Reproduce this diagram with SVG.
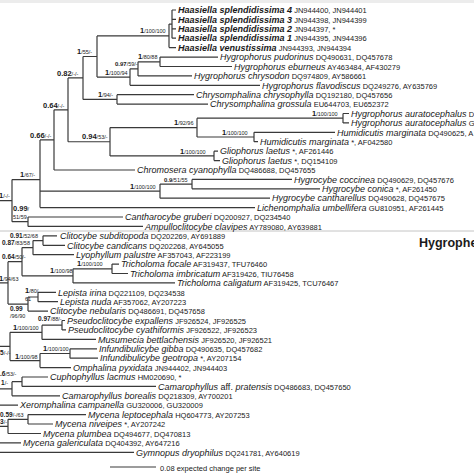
<svg xmlns="http://www.w3.org/2000/svg" width="474" height="474" viewBox="0 0 474 474">
<style>
.t{font-family:"Liberation Sans",Arial,sans-serif;fill:#1a1a1a}
.n{font-size:9px;font-style:italic}
.hb{font-weight:bold}
.a{font-size:7.5px;font-style:normal;font-weight:normal}
.r{font-style:normal}
.lb{font-size:7.5px;font-weight:bold}
.ls{font-size:5.5px}
.c{stroke:#3a3a3a;stroke-width:1.2;fill:none}
</style>
<rect x="0" y="0" width="474" height="474" fill="#fff"/>
<rect x="0" y="0" width="474" height="3" fill="#ececec"/>
<line x1="0" y1="231" x2="474" y2="231" stroke="#c4c4c4" stroke-width="1"/>
<g id="connectors">
<path class="c" d="M172 10V38.2M172 10H176M172 19.4H176M172 28.8H176M172 38.2H176M169 24.1V47.6M169 24.1H172M169 47.6H176M97 35.9V77.1M97 35.9H169M97 77.1H130M130 68.85V85.3M130 68.85H138M130 85.3H260M138 61.8V75.9M138 61.8H160M138 75.9H192M160 57.1V66.5M160 57.1H218M160 66.5H232M117 94.7V104.1M117 94.7H194M117 104.1H208M83 56.5V99.4M83 56.5H97M83 99.4H117M68 77.95V141.75M68 77.95H83M68 141.75H110M343 113.5V122.9M343 113.5H349M343 122.9H349M254 132.3V141.7M254 132.3H335M254 141.7H258M197 118.2V137M197 118.2H343M197 137H254M214 151.2V160.6M214 151.2H218M214 160.6H220M110 127.6V155.9M110 127.6H197M110 155.9H214M54 109.85V170M54 109.85H68M54 170H135M192 179.4V188.8M192 179.4H292M192 188.8H320M160 184.1V198.2M160 184.1H192M160 198.2H270M40 139.9V207.6M40 139.9H54M40 191.15H160M40 207.6H255M28 217V226.4M28 217H123M28 226.4H143M12 179.55V221.7M12 179.55H40M12 221.7H28M0 200.6H12"/>
<path class="c" d="M43 235.8V245.3M43 235.8H57M43 245.3H65M33 240.55V254.7M33 240.55H43M33 254.7H74M112 264.1V273.5M112 264.1H119M112 273.5H128M73 268.8V282.9M73 268.8H112M73 282.9H175M22 247.6V275.85M22 247.6H33M22 275.85H73M38 292.3V301.7M38 292.3H56M38 301.7H58M28 297V311.1M28 297H38M28 311.1H48M8 261.7V304.05M8 261.7H22M8 304.05H28M0 282.9H8M62 320.5V329.9M62 320.5H65M62 329.9H66M42 325.2V339.4M42 325.2H62M42 339.4H96M70 348.8V358.2M70 348.8H97M70 358.2H98M40 353.5V367.6M40 353.5H70M40 367.6H71M10 332.3V360.55M10 332.3H42M10 360.55H40M0 346.4H10M22 377V386.4M22 377H48M22 386.4H156M12 381.7V395.8M12 381.7H22M12 395.8H60M0 388.8H12M0 405.2H18M28 414.6V424M28 414.6H86M28 424H53M8 419.3V433.5M8 419.3H28M8 433.5H41M0 426.4H8M0 442.9H21M0 452.3H134"/>
</g>
<g id="leaves" class="t">
<g id="leaf1"><text x="178" y="13.2"><tspan class="n hb">Haasiella splendidissima 4</tspan><tspan class="a"> JN944400, JN944401</tspan></text></g>
<g id="leaf2"><text x="178" y="22.6"><tspan class="n hb">Haasiella splendidissima 3</tspan><tspan class="a"> JN944398, JN944399</tspan></text></g>
<g id="leaf3"><text x="178" y="32"><tspan class="n hb">Haasiella splendidissima 2</tspan><tspan class="a"> JN944397, *</tspan></text></g>
<g id="leaf4"><text x="178" y="41.4"><tspan class="n hb">Haasiella splendidissima 1</tspan><tspan class="a"> JN944395, JN944396</tspan></text></g>
<g id="leaf5"><text x="178" y="50.8"><tspan class="n hb">Haasiella venustissima</tspan><tspan class="a"> JN944393, JN944394</tspan></text></g>
<g id="leaf6"><text x="220" y="60.3"><tspan class="n">Hygrophorus pudorinus</tspan><tspan class="a"> DQ490631, DQ457678</tspan></text></g>
<g id="leaf7"><text x="234" y="69.7"><tspan class="n">Hygrophorus eburneus</tspan><tspan class="a"> AY463484, AF430279</tspan></text></g>
<g id="leaf8"><text x="194" y="79.1"><tspan class="n">Hygrophorus chrysodon</tspan><tspan class="a"> DQ974809, AY586661</tspan></text></g>
<g id="leaf9"><text x="262" y="88.5"><tspan class="n">Hygrophorus flavodiscus</tspan><tspan class="a"> DQ249276, AY635769</tspan></text></g>
<g id="leaf10"><text x="196" y="97.9"><tspan class="n">Chrysomphalina chrysophylla</tspan><tspan class="a"> DQ192180, DQ457656</tspan></text></g>
<g id="leaf11"><text x="210" y="107.3"><tspan class="n">Chrysomphalina grossula</tspan><tspan class="a"> EU644703, EU652372</tspan></text></g>
<g id="leaf12"><text x="351" y="116.7"><tspan class="n">Hygrophorus auratocephalus</tspan><tspan class="a"> D</tspan></text></g>
<g id="leaf13"><text x="351" y="126.1"><tspan class="n">Hygrophorus auratocephalus</tspan><tspan class="a"> G</tspan></text></g>
<g id="leaf14"><text x="337" y="135.5"><tspan class="n">Humidicutis marginata</tspan><tspan class="a"> DQ490625, A</tspan></text></g>
<g id="leaf15"><text x="260" y="144.9"><tspan class="n">Humidicutis marginata</tspan><tspan class="a"> *, AF042580</tspan></text></g>
<g id="leaf16"><text x="220" y="154.4"><tspan class="n">Gliophorus laetus</tspan><tspan class="a"> *, AF261446</tspan></text></g>
<g id="leaf17"><text x="222" y="163.8"><tspan class="n">Gliophorus laetus</tspan><tspan class="a"> *, DQ154109</tspan></text></g>
<g id="leaf18"><text x="137" y="173.2"><tspan class="n">Chromosera cyanophylla</tspan><tspan class="a"> DQ486688, DQ457655</tspan></text></g>
<g id="leaf19"><text x="294" y="182.6"><tspan class="n">Hygrocybe coccinea</tspan><tspan class="a"> DQ490629, DQ457676</tspan></text></g>
<g id="leaf20"><text x="322" y="192"><tspan class="n">Hygrocybe conica</tspan><tspan class="a"> *, AF261450</tspan></text></g>
<g id="leaf21"><text x="272" y="201.4"><tspan class="n">Hygrocybe cantharellus</tspan><tspan class="a"> DQ490628, DQ457675</tspan></text></g>
<g id="leaf22"><text x="257" y="210.8"><tspan class="n">Lichenomphalia umbellifera</tspan><tspan class="a"> GU810951, AF261445</tspan></text></g>
<g id="leaf23"><text x="125" y="220.2"><tspan class="n">Cantharocybe gruberi</tspan><tspan class="a"> DQ200927, DQ234540</tspan></text></g>
<g id="leaf24"><text x="145" y="229.6"><tspan class="n">Ampulloclitocybe clavipes</tspan><tspan class="a"> AY789080, AY639881</tspan></text></g>
<g id="leaf25"><text x="60" y="239"><tspan class="n">Clitocybe subditopoda</tspan><tspan class="a"> DQ202269, AY691889</tspan></text></g>
<g id="leaf26"><text x="67" y="248.5"><tspan class="n">Clitocybe candicans</tspan><tspan class="a"> DQ202268, AY645055</tspan></text></g>
<g id="leaf27"><text x="76" y="257.9"><tspan class="n">Lyophyllum palustre</tspan><tspan class="a"> AF357043, AF223199</tspan></text></g>
<g id="leaf28"><text x="121" y="267.3"><tspan class="n">Tricholoma focale</tspan><tspan class="a"> AF319437, TFU76460</tspan></text></g>
<g id="leaf29"><text x="130" y="276.7"><tspan class="n">Tricholoma imbricatum</tspan><tspan class="a"> AF319426, TIU76458</tspan></text></g>
<g id="leaf30"><text x="177" y="286.1"><tspan class="n">Tricholoma caligatum</tspan><tspan class="a"> AF319425, TCU76467</tspan></text></g>
<g id="leaf31"><text x="58" y="295.5"><tspan class="n">Lepista irina</tspan><tspan class="a"> DQ221109, DQ234538</tspan></text></g>
<g id="leaf32"><text x="60" y="304.9"><tspan class="n">Lepista nuda</tspan><tspan class="a"> AF357062, AY207223</tspan></text></g>
<g id="leaf33"><text x="50" y="314.3"><tspan class="n">Clitocybe nebularis</tspan><tspan class="a"> DQ486691, DQ457658</tspan></text></g>
<g id="leaf34"><text x="67" y="323.7"><tspan class="n">Pseudoclitocybe expallens</tspan><tspan class="a"> JF926524, JF926525</tspan></text></g>
<g id="leaf35"><text x="68" y="333.1"><tspan class="n">Pseudoclitocybe cyathiformis</tspan><tspan class="a"> JF926522, JF926523</tspan></text></g>
<g id="leaf36"><text x="98" y="342.6"><tspan class="n">Musumecia bettlachensis</tspan><tspan class="a"> JF926520, JF926521</tspan></text></g>
<g id="leaf37"><text x="99" y="352"><tspan class="n">Infundibulicybe gibba</tspan><tspan class="a"> DQ490635, DQ457682</tspan></text></g>
<g id="leaf38"><text x="100" y="361.4"><tspan class="n">Infundibulicybe geotropa</tspan><tspan class="a"> *, AY207154</tspan></text></g>
<g id="leaf39"><text x="73" y="370.8"><tspan class="n">Omphalina pyxidata</tspan><tspan class="a"> JN944402, JN944403</tspan></text></g>
<g id="leaf40"><text x="50" y="380.2"><tspan class="n">Cuphophyllus lacmus</tspan><tspan class="a"> HM020690, *</tspan></text></g>
<g id="leaf41"><text x="158" y="389.6"><tspan class="n">Camarophyllus <tspan class="r">aff.</tspan> pratensis</tspan><tspan class="a"> DQ486683, DQ457650</tspan></text></g>
<g id="leaf42"><text x="62" y="399"><tspan class="n">Camarophyllus borealis</tspan><tspan class="a"> DQ218309, AY700201</tspan></text></g>
<g id="leaf43"><text x="20" y="408.4"><tspan class="n">Xeromphalina campanella</tspan><tspan class="a"> GU320006, GU320009</tspan></text></g>
<g id="leaf44"><text x="88" y="417.8"><tspan class="n">Mycena leptocephala</tspan><tspan class="a"> HQ604773, AY207253</tspan></text></g>
<g id="leaf45"><text x="55" y="427.2"><tspan class="n">Mycena niveipes</tspan><tspan class="a"> *, AY207242</tspan></text></g>
<g id="leaf46"><text x="43" y="436.7"><tspan class="n">Mycena plumbea</tspan><tspan class="a"> DQ494677, DQ470813</tspan></text></g>
<g id="leaf47"><text x="23" y="446.1"><tspan class="n">Mycena galericulata</tspan><tspan class="a"> DQ404392, AY647216</tspan></text></g>
<g id="leaf48"><text x="136" y="455.5"><tspan class="n">Gymnopus dryophilus</tspan><tspan class="a"> DQ241781, AY640619</tspan></text></g>
</g>
<g id="support" class="t">
<text x="140" y="33"><tspan class="lb">1</tspan><tspan class="ls">/100/100</tspan></text>
<text x="77" y="53.5"><tspan class="lb">1</tspan><tspan class="ls">/55/-</tspan></text>
<text x="138" y="58.5"><tspan class="lb">1</tspan><tspan class="ls">/80/88</tspan></text>
<text x="115" y="65.5"><tspan class="lb" style="font-size:6px">0.97</tspan><tspan class="ls">/59/-</tspan></text>
<text x="105" y="74.5"><tspan class="lb">1</tspan><tspan class="ls">/100/94</tspan></text>
<text x="57" y="75.5"><tspan class="lb">0.82</tspan><tspan class="ls">/-/-</tspan></text>
<text x="98" y="96.5"><tspan class="lb">1</tspan><tspan class="ls">/94/-</tspan></text>
<text x="43" y="107.5"><tspan class="lb">0.64</tspan><tspan class="ls">/-/-</tspan></text>
<text x="312" y="115.5"><tspan class="lb">1</tspan><tspan class="ls">/100/100</tspan></text>
<text x="174" y="125"><tspan class="lb">1</tspan><tspan class="ls">/92/96</tspan></text>
<text x="222" y="134.5"><tspan class="lb">1</tspan><tspan class="ls">/100/100</tspan></text>
<text x="82" y="139"><tspan class="lb">0.94</tspan><tspan class="ls">/53/-</tspan></text>
<text x="30" y="137.5"><tspan class="lb">0.66</tspan><tspan class="ls">/-/-</tspan></text>
<text x="180" y="153.5"><tspan class="lb">1</tspan><tspan class="ls">/100/100</tspan></text>
<text x="20" y="177"><tspan class="lb">1</tspan><tspan class="ls">/67/-</tspan></text>
<text x="164" y="181.5"><tspan class="lb" style="font-size:6px">0.9</tspan><tspan class="ls">/51/55</tspan></text>
<text x="130" y="188.5"><tspan class="lb">1</tspan><tspan class="ls">/100/100</tspan></text>
<text x="-1" y="198"><tspan class="lb">1</tspan><tspan class="ls">/-/-</tspan></text>
<text x="13" y="211"><tspan class="lb">0.99</tspan><tspan class="ls">/</tspan></text>
<text x="13" y="219"><tspan class="ls">51/59</tspan></text>
<text x="10" y="238"><tspan class="lb" style="font-size:6.5px">0.91</tspan><tspan class="ls">/52/68</tspan></text>
<text x="2" y="245"><tspan class="lb" style="font-size:6.5px">0.87</tspan><tspan class="ls">/83/58</tspan></text>
<text x="2" y="259"><tspan class="lb" style="font-size:6.5px">0.64</tspan><tspan class="ls">/50/-</tspan></text>
<text x="77" y="266"><tspan class="lb">1</tspan><tspan class="ls">/100/100</tspan></text>
<text x="50" y="273"><tspan class="lb">1</tspan><tspan class="ls">/100/98</tspan></text>
<text x="-1" y="281"><tspan class="lb">1</tspan><tspan class="ls">/94/63</tspan></text>
<text x="25" y="293"><tspan class="lb">1</tspan><tspan class="ls">/80/</tspan></text>
<text x="25" y="301"><tspan class="ls">61</tspan></text>
<text x="10" y="311"><tspan class="lb" style="font-size:6.5px">0.99</tspan></text>
<text x="10" y="318"><tspan class="ls">/96/90</tspan></text>
<text x="38" y="321"><tspan class="lb" style="font-size:6.5px">0.97</tspan><tspan class="ls">/88/-</tspan></text>
<text x="13" y="329.5"><tspan class="lb">1</tspan><tspan class="ls">/100/100</tspan></text>
<text x="43" y="351"><tspan class="lb">1</tspan><tspan class="ls">/100/100</tspan></text>
<text x="0" y="355"><tspan class="lb" style="font-size:6.5px">5</tspan><tspan class="ls">/-/-</tspan></text>
<text x="15" y="358.5"><tspan class="lb">1</tspan><tspan class="ls">/100/98</tspan></text>
<text x="0" y="376"><tspan class="lb" style="font-size:6.5px">.6</tspan><tspan class="ls">/53/-</tspan></text>
<text x="1" y="384.5"><tspan class="lb" style="font-size:6.5px">1</tspan><tspan class="ls">/-</tspan></text>
<text x="0" y="416.5"><tspan class="lb" style="font-size:6.5px">0.59</tspan><tspan class="ls">/-/63</tspan></text>
<text x="0" y="424"><tspan class="lb" style="font-size:6.5px">3</tspan><tspan class="ls">/-</tspan></text>
</g>
<g id="clade-label" class="t"><text x="419" y="247" style="font-size:12.5px;font-weight:bold">Hygrophe</text></g>
<g id="scale" class="t">
<line x1="110" y1="467" x2="156" y2="467" stroke="#3a3a3a" stroke-width="1.2"/>
<text x="160" y="471"><tspan class="a">0.08 expected change per site</tspan></text>
</g>
</svg>
